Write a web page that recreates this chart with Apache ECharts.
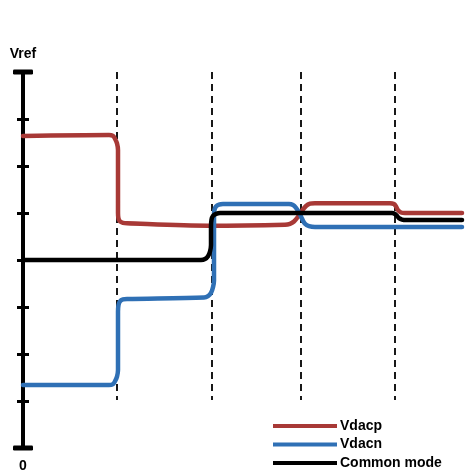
<!DOCTYPE html>
<html>
<head>
<meta charset="utf-8">
<script src="https://cdn.jsdelivr.net/npm/echarts@6/dist/echarts.min.js"></script>
<style>
  html, body { margin: 0; padding: 0; background: #fff; }
  #main { width: 474px; height: 474px; }
</style>
</head>
<body>
<div id="main"></div>
<script>
// x is in time units along the (hidden) horizontal axis, y in level units (0 .. Vref = 8)
const vdacp = [
  [0, 6.64], [86, 6.66], [90, 6.64], [92, 6.58], [94, 6.48], [95, 6.34],
  [95, 5.0], [95.5, 4.88], [97, 4.82], [100, 4.79], [104, 4.78],
  [185, 4.73], [262, 4.75], [267, 4.77], [271, 4.82], [275, 4.92], [279, 5.05],
  [283, 5.15], [287, 5.2], [292, 5.21], [367, 5.21], [371, 5.19], [373, 5.14],
  [375, 5.06], [378, 5.01], [382, 5.0], [439, 5.0]
];
const vdacn = [
  [0, 1.34], [86, 1.34], [90, 1.36], [92, 1.42], [94, 1.52], [95, 1.66],
  [95, 2.9], [95.5, 3.04], [97, 3.12], [100, 3.16], [104, 3.17],
  [181, 3.2], [185, 3.23], [188, 3.3], [190, 3.42], [191, 3.56],
  [191, 4.95], [191.5, 5.07], [193, 5.14], [196, 5.18], [200, 5.19],
  [266, 5.19], [270, 5.17], [273, 5.11], [276, 5.01], [279, 4.88],
  [282, 4.77], [286, 4.72], [292, 4.7], [439, 4.7]
];
const commonMode = [
  [0, 4.0], [178, 4.0], [182, 4.02], [185, 4.08], [187, 4.18], [188, 4.32],
  [188, 4.72], [188.5, 4.86], [190, 4.94], [193, 4.98], [197, 5.0],
  [369, 5.0], [372, 4.98], [374, 4.94], [376, 4.89], [379, 4.86], [383, 4.85], [439, 4.85]
];
const stepTimes = [94, 189, 278, 372];
const yLabels = ['0', 'Vref'];

const names = ['Vdacp', 'Vdacn', 'Common mode'];
const colors = ['#a83936', '#2f70b5', '#000000'];
const lines = [vdacp, vdacn, commonMode];

const series = lines.map((d, i) => ({
  name: names[i],
  type: 'line',
  data: d,
  showSymbol: false,
  smooth: 0.3,
  lineStyle: { width: 4.5, color: colors[i], cap: 'round', join: 'round' },
  itemStyle: { color: colors[i] },
  z: 3 + i
}));

// dashed step markers
stepTimes.forEach(t => {
  series.push({
    type: 'line',
    data: [[t, 8], [t, 1.02]],
    showSymbol: false,
    silent: true,
    lineStyle: { width: 1.8, color: '#000', type: [7, 5] },
    z: 2
  });
});

const yBase = {
  type: 'value',
  min: 0,
  max: 8,
  interval: 1,
  position: 'left',
  splitLine: { show: false },
  axisLabel: { show: false },
  nameTextStyle: {
    fontFamily: 'Liberation Sans',
    fontWeight: 'bold',
    fontSize: 14,
    color: '#000',
    align: 'center'
  }
};

const option = {
  animation: false,
  backgroundColor: '#fff',
  grid: { left: 23, right: 11, top: 72, bottom: 26 },
  xAxis: { type: 'value', min: 0, max: 440, show: false },
  yAxis: [
    Object.assign({}, yBase, {
      name: yLabels[1],
      nameLocation: 'end',
      nameGap: 11,
      axisLine: {
        show: true,
        lineStyle: { color: '#000', width: 4 },
        symbol: ['roundRect', 'roundRect'],
        symbolSize: [20, 5]
      },
      axisTick: { show: true, length: 6, lineStyle: { color: '#000', width: 3 } }
    }),
    Object.assign({}, yBase, {
      name: yLabels[0],
      nameLocation: 'start',
      nameGap: 11,
      axisLine: { show: false },
      axisTick: { show: true, inside: true, length: 6, lineStyle: { color: '#000', width: 3 } }
    })
  ],
  legend: {
    data: names,
    orient: 'vertical',
    left: 273,
    top: 419,
    height: 60,
    padding: 0,
    icon: 'rect',
    itemWidth: 64,
    itemHeight: 4,
    itemGap: 4.5,
    textStyle: {
      fontFamily: 'Liberation Sans',
      fontWeight: 'bold',
      fontSize: 14,
      color: '#000',
      padding: [0, 0, 0, -2]
    }
  },
  series: series
};

const myChart = echarts.init(document.getElementById('main'));
myChart.setOption(option);
</script>
</body>
</html>
